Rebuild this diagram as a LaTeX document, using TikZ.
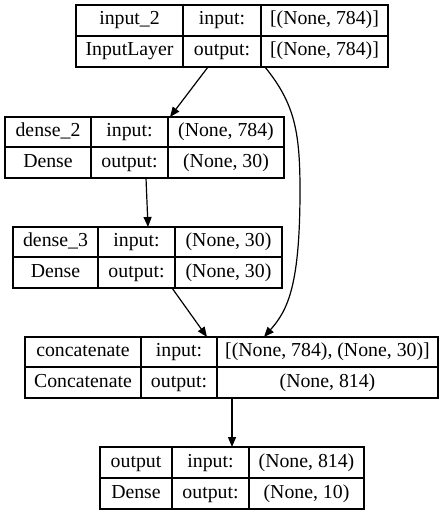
\documentclass[tikz,border=0pt]{standalone}
\usepackage{fontspec}
\setmainfont{Liberation Serif}
\usetikzlibrary{arrows.meta,calc}
\tikzset{
  x=1pt, y=-1pt,
  frame/.style={draw, line width=1.2pt, anchor=north west, inner sep=0pt, outer sep=0pt},
  sep/.style={line width=1.2pt},
  cell/.style={inner sep=0pt, text height=13.5pt, text depth=4.5pt, font=\fontsize{19.8}{22}\selectfont},
  arr/.style={line width=1.2pt, -{Triangle[length=10pt,width=8pt]}}
}
% name, x1, x2, x3, x4, ytop, ymid, ybot
\newcommand\mklayer[8]{%
  \node[frame, minimum width={#5pt-#2pt}, minimum height={#8pt-#6pt}] (#1) at (#2,#6) {};
  \draw[sep] (#3,#6) -- (#3,#8);
  \draw[sep] (#4,#6) -- (#4,#8);
  \draw[sep] (#2,#7) -- (#5,#7);
  \coordinate (#1-c1) at ({(#2+#3)/2},0);
  \coordinate (#1-c2) at ({(#3+#4)/2},0);
  \coordinate (#1-c3) at ({(#4+#5)/2},0);
  \coordinate (#1-r1) at (0,{(#6+#7)/2});
  \coordinate (#1-r2) at (0,{(#7+#8)/2});
}
% name, six texts
\newcommand\mktexts[7]{%
  \node[cell] (#1-t11) at (#1-c1 |- #1-r1) {#2};
  \node[cell] (#1-t12) at (#1-c2 |- #1-r1) {#3};
  \node[cell] (#1-t13) at (#1-c3 |- #1-r1) {#4};
  \node[cell] (#1-t21) at (#1-c1 |- #1-r2) {#5};
  \node[cell] (#1-t22) at (#1-c2 |- #1-r2) {#6};
  \node[cell] (#1-t23) at (#1-c3 |- #1-r2) {#7};
}
\begin{document}
\begin{tikzpicture}
\useasboundingbox (0,0) rectangle (445,516);
\mklayer{in2}{76}{183}{261}{388}{5}{36}{67}
\mktexts{in2}{input\_2}{input:}{[(None, 784)]}{InputLayer}{output:}{[(None, 784)]}
\mklayer{d2}{5}{91}{168}{284}{117}{147}{178}
\mktexts{d2}{dense\_2}{input:}{(None, 784)}{Dense}{output:}{(None, 30)}
\mklayer{d3}{13}{98}{175}{282}{227}{257}{288}
\mktexts{d3}{dense\_3}{input:}{(None, 30)}{Dense}{output:}{(None, 30)}
\mklayer{conc}{25}{141}{217}{438}{337}{367}{398}
\node[cell] (conc-t11) at (conc-c1 |- conc-r1) {concatenate};
\node[cell] (conc-t12) at (conc-c2 |- conc-r1) {input:};
\node[cell] (conc-t13) at (conc-c3 |- conc-r1) {[(None, 784), (None, 30)]};
\node[cell] (conc-t21) at (conc-c1 |- conc-r2) {Concatenate};
\node[cell] (conc-t22) at (conc-c2 |- conc-r2) {output:};
\node[cell] (conc-t23) at (conc-c3 |- conc-r2) {(None, 814)};
\mklayer{out}{100}{172}{249}{364}{447}{478}{509}
\mktexts{out}{output}{input:}{(None, 814)}{Dense}{output:}{(None, 10)}

\draw[arr] ([xshift=132pt]in2.south west) -- ([xshift=165pt]d2.north west);
\draw[arr] ([xshift=141pt]d2.south west) -- ([xshift=135pt]d3.north west);
\draw[arr] ([xshift=159pt]d3.south west) -- ([xshift=182pt]conc.north west);
\draw[arr] ([xshift=207pt]conc.south west) -- ([xshift=132pt]out.north west);
\draw[arr] ([xshift=189pt]in2.south west) .. controls (294,103) and (300,130) .. (300,190)
  .. controls (300,285) and (288,310) .. ([xshift=239pt]conc.north west);
\end{tikzpicture}
\end{document}
